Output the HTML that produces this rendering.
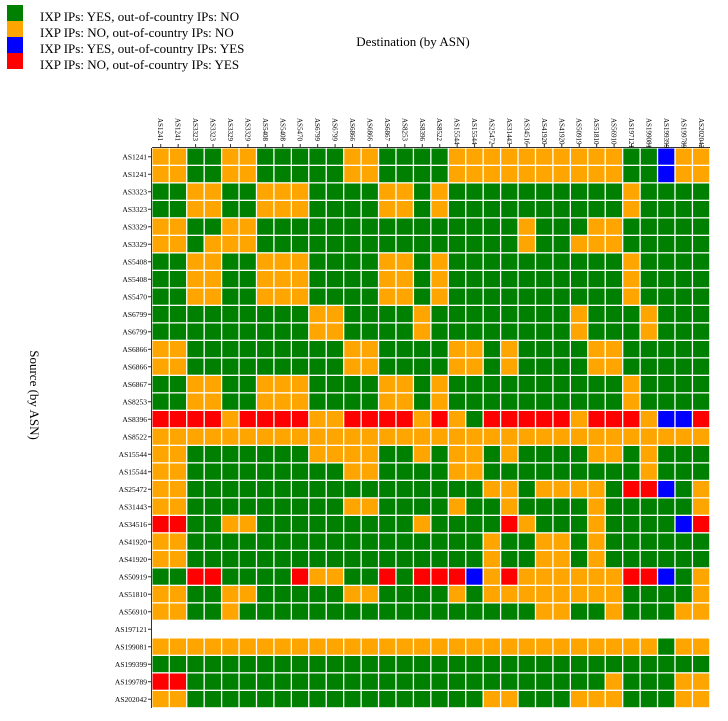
<!DOCTYPE html>
<html><head><meta charset="utf-8">
<style>
html,body{margin:0;padding:0;background:#fff;width:728px;height:721px;overflow:hidden}
svg{display:block;font-family:"Liberation Serif",serif}
</style></head>
<body>
<svg id="chart" width="728" height="721" viewBox="0 0 728 721" xmlns="http://www.w3.org/2000/svg">
  <g>
    <rect x="7" y="5" width="16" height="16" fill="#008000"/>
    <rect x="7" y="21" width="16" height="16" fill="#FFA500"/>
    <rect x="7" y="37" width="16" height="16" fill="#0000FF"/>
    <rect x="7" y="53" width="16" height="16" fill="#FF0000"/>
    <text x="40" y="21" font-size="13">IXP IPs: YES, out-of-country IPs: NO</text>
    <text x="40" y="37" font-size="13">IXP IPs: NO, out-of-country IPs: NO</text>
    <text x="40" y="53" font-size="13">IXP IPs: YES, out-of-country IPs: YES</text>
    <text x="40" y="69" font-size="13">IXP IPs: NO, out-of-country IPs: YES</text>
  </g>
  <text x="413" y="46" font-size="13" text-anchor="middle">Destination (by ASN)</text>
  <text transform="translate(30,395) rotate(90)" font-size="13" text-anchor="middle">Source (by ASN)</text>
  <g id="cells"></g>
  <g id="axes"></g>
</svg>
<script>
const rowLabels = ["AS1241","AS1241","AS3323","AS3323","AS3329","AS3329","AS5408","AS5408","AS5470","AS6799","AS6799","AS6866","AS6866","AS6867","AS8253","AS8396","AS8522","AS15544","AS15544","AS25472","AS31443","AS34516","AS41920","AS41920","AS50919","AS51810","AS56910","AS197121","AS199081","AS199399","AS199789","AS202042"];
const colLabels = ["AS1241","AS1241","AS3323","AS3323","AS3329","AS3329","AS5408","AS5408","AS5470","AS6799","AS6799","AS6866","AS6866","AS6867","AS8253","AS8396","AS8522","AS15544","AS15544","AS25472","AS31443","AS34516","AS41920","AS41920","AS50919","AS51810","AS56910","AS197121","AS199081","AS199399","AS199789","AS202042"];
const cellValues = [
"OOGGOOGGGGGOOGGGGOOOOOOOOOOGGBOO",
"OOGGOOGGGGGOOGGGGOOOOOOOOOOGGBOO",
"GGOOGGOOOGGGGOOGOGGGGGGGGGGOGGGG",
"GGOOGGOOOGGGGOOGOGGGGGGGGGGOGGGG",
"OOGGOOGGGGGGGGGGGGGGGOGGGOOGGGGG",
"OOGOOOGGGGGGGGGGGGGGGOGGOOOGGGGG",
"GGOOGGOOOGGGGOOGOGGGGGGGGGGOGGGG",
"GGOOGGOOOGGGGOOGOGGGGGGGGGGOGGGG",
"GGOOGGOOOGGGGOOGOGGGGGGGGGGOGGGG",
"GGGGGGGGGOOGGGGOGGGGGGGGOGGGOGGG",
"GGGGGGGGGOOGGGGOGGGGGGGGOGGGOGGG",
"OOGGGGGGGGGOOGGGGOOGOGGGGOOGGGGG",
"OOGGGGGGGGGOOGGGGOOGOGGGGOOGGGGG",
"GGOOGGOOOGGGGOOGOGGGGGGGGGGOGGGG",
"GGOOGGOOOGGGGOOGOGGGGGGGGGGOGGGG",
"RRRRORRRROORRRROROGRRRRRORRROBBR",
"OOOOOOOOOOOOOOOOOOOOOOOOOOOOOOOO",
"OOGGGGGGGOOOOGGOGOOGOGGGGOOGOGGG",
"OOGGGGGGGGGOOGGGGOOGGGGGGGGGOGGG",
"OOGGGGGGGGGGGGGGGGGOOGOOOOGRRBGO",
"OOGGGGGGGGGOOGGGGOGGOGGGGOGGGGGO",
"RRGGOOGGGGGGGGGOGGGGROGGGOGGGGBR",
"OOGGGGGGGGGGGGGGGGGOGGOOGOGGGGGG",
"OOGGGGGGGGGGGGGGGGGOGGOOGOGGGGGG",
"GGRRGGGGROOGGRGRRRBOROOOOOORRBGO",
"OOGGOOGGGGGOOGGGGOGOOOOOOOOGGGGO",
"OOGGOGGGGGGGGGGGGGGGGGOOGGOGGGOO",
"--------------------------------",
"OOOOOOOOOOOOOOOOOOOOOOOOOOOOOGOO",
"GGGGGGGGGGGGGGGGGGGGGGGGGGGGGGGG",
"RRGGGGGGGGGGGGGGGGGGGGGGGGOGGGOO",
"OOGGGGGGGGGGGGGGGGGOOGGGOOOGGGOO"
];
const colorKeys = ["G","O","B","R"];
const colorFill = ["#008000","#FFA500","#0000FF","#FF0000"];

const NS = "http://www.w3.org/2000/svg";
const gLeft = 152, gRight = 710, gTop = 148, gBottom = 708;
const cw = (gRight - gLeft) / colLabels.length;
const rh = (gBottom - gTop) / rowLabels.length;
function xScale(i){ return gLeft + i * cw; }
function yScale(j){ return gTop + j * rh; }

const cellsG = document.getElementById("cells");
cellValues.forEach(function(rowStr, j){
  rowStr.split("").forEach(function(ch, i){
    const k = colorKeys.indexOf(ch);
    if (k < 0) return;
    const r = document.createElementNS(NS, "rect");
    r.setAttribute("x", xScale(i) + 0.5);
    r.setAttribute("y", yScale(j) + 0.5);
    r.setAttribute("width", cw - 1.3);
    r.setAttribute("height", rh - 1.3);
    r.setAttribute("fill", colorFill[k]);
    
    
    cellsG.appendChild(r);
  });
});

const axesG = document.getElementById("axes");
function drawLine(x1,y1,x2,y2,name){
  const l = document.createElementNS(NS, "line");
  l.setAttribute("x1",x1); l.setAttribute("y1",y1);
  l.setAttribute("x2",x2); l.setAttribute("y2",y2);
  l.setAttribute("stroke","#333"); l.setAttribute("stroke-width","1");
  
  
  axesG.appendChild(l);
}
drawLine(gLeft, gTop - 0.5, gRight, gTop - 0.5, 'x-axis-line');
drawLine(gLeft - 0.5, gTop, gLeft - 0.5, gBottom, 'y-axis-line');
colLabels.forEach(function(lab, i){
  const cx = xScale(i) + cw / 2;
  drawLine(cx, gTop - 4, cx, gTop, 'x-tick');
  const t = document.createElementNS(NS, "text");
  t.setAttribute("transform", "translate(" + (cx - 2.5) + "," + (gTop - 30) + ") rotate(90)");
  t.setAttribute("font-size", "7");
  t.textContent = lab;
  
  
  axesG.appendChild(t);
});
rowLabels.forEach(function(lab, j){
  const cy = yScale(j) + rh / 2;
  drawLine(gLeft - 4, cy, gLeft, cy, 'y-tick');
  const t = document.createElementNS(NS, "text");
  t.setAttribute("x", gLeft - 5);
  t.setAttribute("y", cy + 2.5);
  t.setAttribute("font-size", "7.5");
  t.setAttribute("text-anchor", "end");
  t.textContent = lab;
  
  
  axesG.appendChild(t);
});
</script>
</body></html>
